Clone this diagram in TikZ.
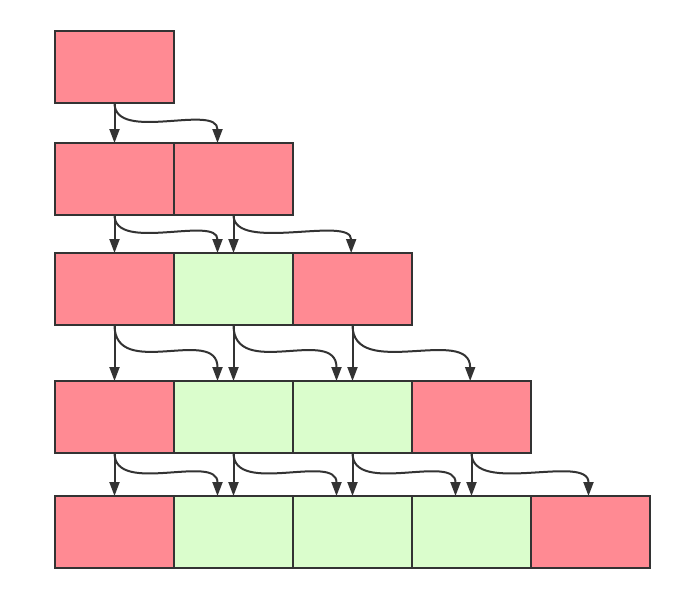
\documentclass[tikz,border=0pt]{standalone}
\usepackage{xcolor}
\usepackage{tikz}
\usetikzlibrary{arrows.meta}
\usetikzlibrary{calc,positioning}
\definecolor{cellred}{HTML}{FF8A93}
\definecolor{cellgreen}{HTML}{DAFDCC}
\definecolor{linegray}{HTML}{333333}
\tikzset{%
  >={Triangle[width=7.5pt,length=10.5pt]},
  % Specifications for style of nodes:
  cell/.style = {rectangle, draw=linegray, line width=1.5pt,
    minimum width=89.25pt,
    minimum height=54pt,
    outer sep=0pt, inner sep=0pt},
  edgecell/.style = {cell, fill=cellred},
  innercell/.style = {cell, fill=cellgreen},
  % Specifications for style of connectors:
  link/.style = {->, draw=linegray, line width=1.5pt},
  hop/.style = {link, to path={.. controls (\tikztostart |- \tikztotarget)
      and (\tikztotarget |- \tikztostart) .. (\tikztotarget)}},
}

\begin{document}
\begin{tikzpicture}[x=0.75pt, y=-0.75pt]
        \useasboundingbox (0,0) rectangle (700,596);
        % Specification of nodes (position, etc.)
        \node(n11)[edgecell] at (114.5,67){};

        \node(n21)[edgecell, below=30pt of n11]{};
        \node(n22)[edgecell, right=0pt of n21]{};

        \node(n31)[edgecell, below=28.5pt of n21]{};
        \node(n32)[innercell, right=0pt of n31]{};
        \node(n33)[edgecell, right=0pt of n32]{};

        \node(n41)[edgecell, below=42pt of n31]{};
        \node(n42)[innercell, right=0pt of n41]{};
        \node(n43)[innercell, right=0pt of n42]{};
        \node(n44)[edgecell, right=0pt of n43]{};

        \node(n51)[edgecell, below=32.25pt of n41]{};
        \node(n52)[innercell, right=0pt of n51]{};
        \node(n53)[innercell, right=0pt of n52]{};
        \node(n54)[innercell, right=0pt of n53]{};
        \node(n55)[edgecell, right=0pt of n54]{};

        % Connectors, row 1 to row 2
        \draw[link](n11.south) -- (n21.north);
        \draw[hop](n11.south) to ([xshift=-12pt]n22.north);
        % row 2 to row 3
        \draw[link](n21.south) -- (n31.north);
        \draw[hop](n21.south) to ([xshift=-12pt]n32.north);
        \draw[link](n22.south) -- (n32.north);
        \draw[hop](n22.south) to ([xshift=-1pt]n33.north);
        % row 3 to row 4
        \draw[link](n31.south) -- (n41.north);
        \draw[hop](n31.south) to ([xshift=-12pt]n42.north);
        \draw[link](n32.south) -- (n42.north);
        \draw[hop](n32.south) to ([xshift=-12pt]n43.north);
        \draw[link](n33.south) -- (n43.north);
        \draw[hop](n33.south) to ([xshift=-1pt]n44.north);
        % row 4 to row 5
        \draw[link](n41.south) -- (n51.north);
        \draw[hop](n41.south) to ([xshift=-12pt]n52.north);
        \draw[link](n42.south) -- (n52.north);
        \draw[hop](n42.south) to ([xshift=-12pt]n53.north);
        \draw[link](n43.south) -- (n53.north);
        \draw[hop](n43.south) to ([xshift=-12pt]n54.north);
        \draw[link](n44.south) -- (n54.north);
        \draw[hop](n44.south) to ([xshift=-1.5pt]n55.north);
    \end{tikzpicture}
\end{document}
